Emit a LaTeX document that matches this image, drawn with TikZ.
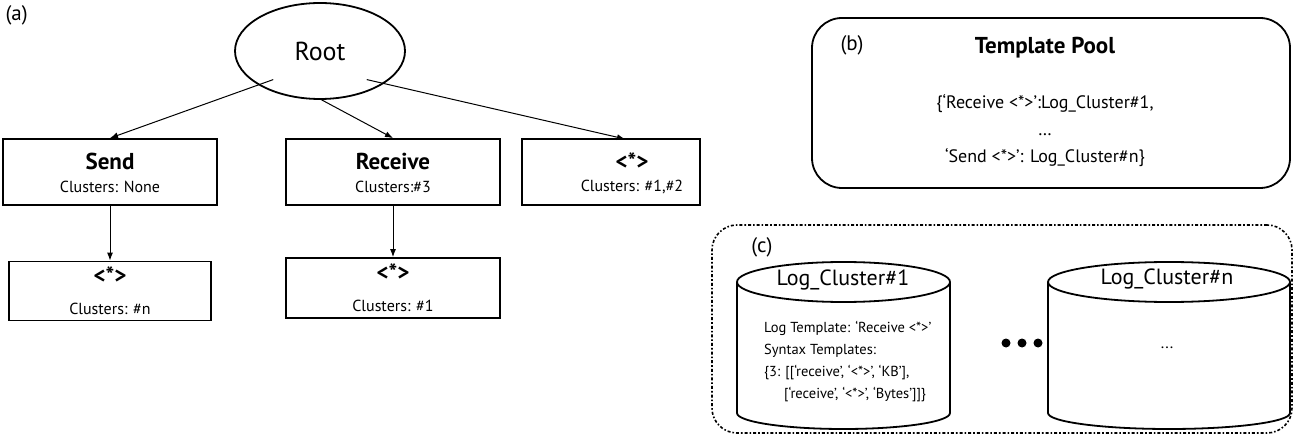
\documentclass[tikz,border=0pt]{standalone}
\usepackage{fontspec}
\setmainfont{PT Sans}
\usetikzlibrary{shapes.geometric,arrows.meta}
\begin{document}
\begin{tikzpicture}[x=1pt,y=-1pt,
  box/.style={draw,line width=1.8pt,rectangle,inner sep=0pt},
  arr/.style={-{Latex[length=8pt,width=6pt]},line width=1pt},
  lab/.style={font=\fontsize{21}{23}\selectfont},
  big/.style={font=\fontsize{23}{25}\selectfont\bfseries},
  small/.style={font=\fontsize{16}{18}\selectfont},
  cyl/.style={line width=1.8pt}]
\useasboundingbox (0,0) rectangle (1303,438);
\node[lab,anchor=north west] (la) at (2,2) {(a)};
\node[draw,ellipse,line width=1.8pt,minimum width=170pt,minimum height=96pt,font=\fontsize{26}{28}\selectfont] (root) at (320,51) {Root};
% level 1
\node[box,minimum width=214pt,minimum height=66pt] (send) at (110,172) {};
\node[big] (sendt) at (110,161) {Send};
\node[small] (sends) at (110,187) {Clusters: None};
\node[box,minimum width=214pt,minimum height=66pt] (recv) at (393,172) {};
\node[big] (recvt) at (393,161) {Receive};
\node[small] (recvs) at (393,187) {Clusters:\#3};
\node[box,minimum width=178pt,minimum height=66pt] (star) at (611,172) {};
\node[big] (start) at (632,161) {<*>};
\node[small] (stars) at (632,187) {Clusters: \#1,\#2};
% level 2
\node[box,minimum width=202pt,minimum height=59pt] (sendc) at (110,291) {};
\node[big] (sendct) at (110,275) {<*>};
\node[small] (sendcs) at (110,309) {Clusters: \#n};
\node[box,minimum width=214pt,minimum height=60pt] (recvc) at (393,288) {};
\node[big] (recvct) at (393,272) {<*>};
\node[small] (recvcs) at (393,306) {Clusters: \#1};
\draw[arr] (root.south west) ++(14,-6) coordinate (r1) -- (send.north);
\draw[arr] (root) ++(0,48) coordinate (r2) -- (recv.north);
\draw[arr] (root.south east) ++(-14,-6) coordinate (r3) -- (625,139);
\draw[arr] (send.south) -- (sendc.north);
\draw[arr] (recv.south) -- (recvc.north);
% (b)
\node[draw,line width=1.8pt,rounded corners=30pt,minimum width=478pt,minimum height=170pt] (pool) at (1051,103) {};
\node[lab] (lb) at (852,45) {(b)};
\node[big] (poolt) at (1045,48) {Template Pool};
\node[align=center,font=\fontsize{18}{27}\selectfont] (poolx) at (1045,131) {\{‘Receive <*>’:Log\_Cluster\#1,\\…\\‘Send <*>’: Log\_Cluster\#n\}};
% (c)
\node[draw,line width=1.6pt,dash dot,rounded corners=25pt,minimum width=580pt,minimum height=208pt] (cbox) at (1002,329) {};
\node[lab] (lc) at (762,247) {(c)};
\draw[cyl] (737,282) -- (737,413) arc[start angle=180,end angle=360,x radius=106.5pt,y radius=16pt] -- (950,282);
\draw[cyl] (843.5,282) ellipse[x radius=106.5pt,y radius=20pt];
\node[font=\fontsize{22}{24}\selectfont] (c1) at (843,280) {Log\_Cluster\#1};
\node[align=left,anchor=north west,font=\fontsize{14.5}{22}\selectfont,inner sep=0pt] (c1t) at (764,321) {Log Template: ‘Receive <*>’\\Syntax Templates:\\\{3: [[‘receive’, ‘<*>’, ‘KB’],\\\hspace*{20pt}[‘receive’, ‘<*>’, ‘Bytes’]]\}};
\draw[cyl] (1048,282) -- (1048,413) arc[start angle=180,end angle=360,x radius=121pt,y radius=16pt] -- (1290,282);
\draw[cyl] (1169,282) ellipse[x radius=121pt,y radius=20pt];
\node[font=\fontsize{22}{24}\selectfont] (cn) at (1167,279) {Log\_Cluster\#n};
\node[small] (cnt) at (1167,348) {...};
\foreach \xx in {1006,1022,1038} \fill (\xx,343) circle (4.5pt);
\end{tikzpicture}
\end{document}
